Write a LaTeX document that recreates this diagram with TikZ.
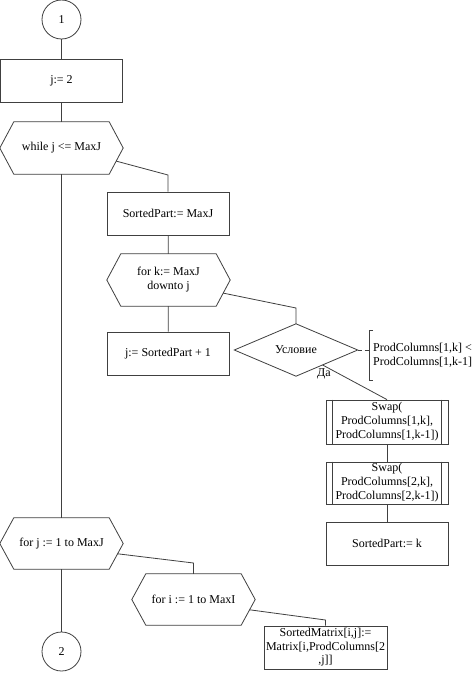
\documentclass[tikz,border=0pt]{standalone}
\usepackage{fontspec}
\setmainfont{Liberation Serif}
\usetikzlibrary{calc}
\begin{document}
\begin{tikzpicture}[x=1pt,y=-1pt,
  every node/.style={font=\fontsize{12}{14}\selectfont, inner sep=0pt, align=center},
  ln/.style={draw=black!75, line width=0.8pt},
  blk/.style={ln, rectangle, minimum width=122pt, minimum height=43pt},
  hexa/.style={rectangle, minimum width=123pt, minimum height=52pt},
  dia/.style={rectangle, minimum width=123pt, minimum height=52pt},
  conn/.style={ln, circle, minimum size=39pt},
  sub/.style={blk}
]
\useasboundingbox (0,0) rectangle (474,675);
\fill[white] (0,0) rectangle (474,675);

% nodes
\node[conn] (c1) at (61.5,19.5) {1};
\node[blk] (b1) at (61.5,80.5) {j:= 2};
\node[hexa] (w) at (61.5,148) {while j <= MaxJ};
\node[blk] (sp) at (168,213.5) {SortedPart:= MaxJ};
\node[hexa] (fk) at (168.5,280) {for k:= MaxJ\\downto j};
\node[blk] (jsp) at (168,353.5) {j:= SortedPart + 1};
\node[dia] (cond) at (296,350) {Условие};
\node[anchor=west, align=left] (cm) at (373,355) {ProdColumns[1,k] <\\ProdColumns[1,k-1]};
\node (da) at (324,374) {Да};
\node[sub, minimum height=44pt] (s1) at (387,422) {Swap(\\ProdColumns[1,k],\\ProdColumns[1,k-1])};
\node[sub, minimum height=42pt] (s2) at (387,483) {Swap(\\ProdColumns[2,k],\\ProdColumns[2,k-1])};
\node[blk] (spk) at (387,543.5) {SortedPart:= k};
\node[hexa, minimum height=51pt] (fj) at (61.5,543.5) {for j := 1 to MaxJ};
\node[hexa, minimum height=51pt] (fi) at (193.5,599.5) {for i := 1 to MaxI};
\node[blk, minimum width=123pt, font=\fontsize{12}{13.5}\selectfont] (sm) at (325.5,647.5) {SortedMatrix[i,j]:=\\Matrix[i,ProdColumns[2\\,j]]};
\node[conn] (c2) at (61.5,651.5) {2};

% hexagon outlines
\foreach \n in {w,fk,fj,fi}
  \draw[ln] ([xshift=14pt]\n.north west) -- ([xshift=-14pt]\n.north east) -- (\n.east)
    -- ([xshift=-14pt]\n.south east) -- ([xshift=14pt]\n.south west) -- (\n.west) -- cycle;
% diamond outline
\draw[ln] (cond.west) -- (cond.north) -- (cond.east) -- (cond.south) -- cycle;
% subroutine inner lines
\foreach \n in {s1,s2}{
  \draw[ln] ([xshift=7pt]\n.north west) -- ([xshift=7pt]\n.south west);
  \draw[ln] ([xshift=-7pt]\n.north east) -- ([xshift=-7pt]\n.south east);
}

% connectors
\draw[ln] (c1) -- (b1);
\draw[ln] (b1) -- (w);
\draw[ln] (w.south) -- (fj.north);
\draw[ln] (fj.south) -- (c2.north);
\draw[ln] ($(w.east)!0.5!([xshift=-14pt]w.south east)$) -- (sp.north |- 0,175) -- (sp.north);
\draw[ln] (sp) -- (fk);
\draw[ln] (fk) -- (jsp);
\draw[ln] ($(fk.east)!0.5!([xshift=-14pt]fk.south east)$) -- (cond.north |- 0,308) -- (cond.north);
\draw[ln] ($(cond.south)!0.43!(cond.east)$) -- (s1.north);
\draw[ln] (s1) -- (s2);
\draw[ln] (s2) -- (spk);
\draw[ln] ($(fj.east)!0.4!([xshift=-14pt]fj.south east)$) -- (fi.north |- 0,563) -- (fi.north);
\draw[ln] ($(fi.east)!0.4!([xshift=-14pt]fi.south east)$) -- (sm.north |- 0,620) -- (sm.north);
% comment
\coordinate (bt) at (369,330);
\coordinate (bb) at (369,380);
\draw[ln, dash pattern=on 4pt off 3pt] (cond.east) -- (bt |- cond.east);
\draw[ln] ([xshift=4pt]bt) -- (bt) -- (bb) -- ([xshift=4pt]bb);
\end{tikzpicture}
\end{document}
